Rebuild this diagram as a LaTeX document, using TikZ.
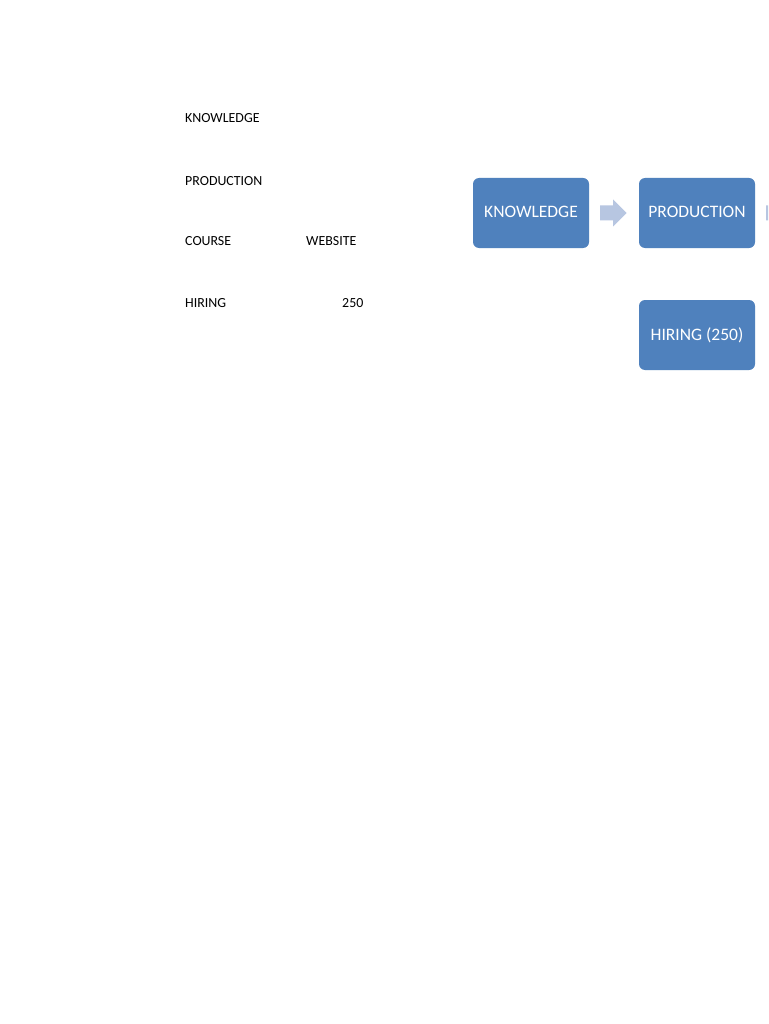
\documentclass[tikz,border=0pt]{standalone}
\usepackage{fontspec}
\setmainfont{Carlito}
\usetikzlibrary{calc}
\definecolor{boxblue}{HTML}{4F81BD}
\definecolor{arrowblue}{HTML}{B7C6E1}
\begin{document}
\begin{tikzpicture}[x=1pt,y=-1pt,
  plain/.style={anchor=base west,inner sep=0pt,font=\fontsize{13.9}{16}\selectfont},
  flowbox/.style={fill=boxblue,rounded corners=6pt,minimum width=116pt,minimum height=70pt,inner sep=0pt,text=white,font=\fontsize{17.5}{20}\selectfont},
  blockarrow/.style={fill=arrowblue}]
\useasboundingbox (0,0) rectangle (768,1024);
\clip (0,0) rectangle (768,1024);
\fill[white] (0,0) rectangle (768,1024);
% left list
\node[plain] (t1) at (185,122.5) {KNOWLEDGE};
\node[plain] (t2) at (185,185.5) {PRODUCTION};
\node[plain] (t3) at (185,245.5) {COURSE};
\node[plain] (t4) at (306,245.5) {WEBSITE};
\node[plain] (t5) at (185,307.5) {HIRING};
\node[plain] (t6) at (342,307.5) {250};
% boxes
\node[flowbox] (k) at (531,213) {\raisebox{2pt}{KNOWLEDGE}};
\node[flowbox] (p) at (697,213) {\raisebox{2pt}{PRODUCTION}};
\node[flowbox] (h) at (697,335) {\raisebox{2pt}{HIRING (250)}};
% block arrows
\coordinate (a1) at ($(k.east)+(11,0)$);
\fill[blockarrow] ($(a1)+(0,-7.5)$) -- ++(13,0) -- ++(0,-6) -- ++(13.5,13.5) -- ++(-13.5,13.5) -- ++(0,-6) -- ++(-13,0) -- cycle;
\coordinate (a2) at ($(p.east)+(11,0)$);
\fill[blockarrow] ($(a2)+(0,-7.5)$) -- ++(13,0) -- ++(0,-6) -- ++(13.5,13.5) -- ++(-13.5,13.5) -- ++(0,-6) -- ++(-13,0) -- cycle;
\end{tikzpicture}
\end{document}
